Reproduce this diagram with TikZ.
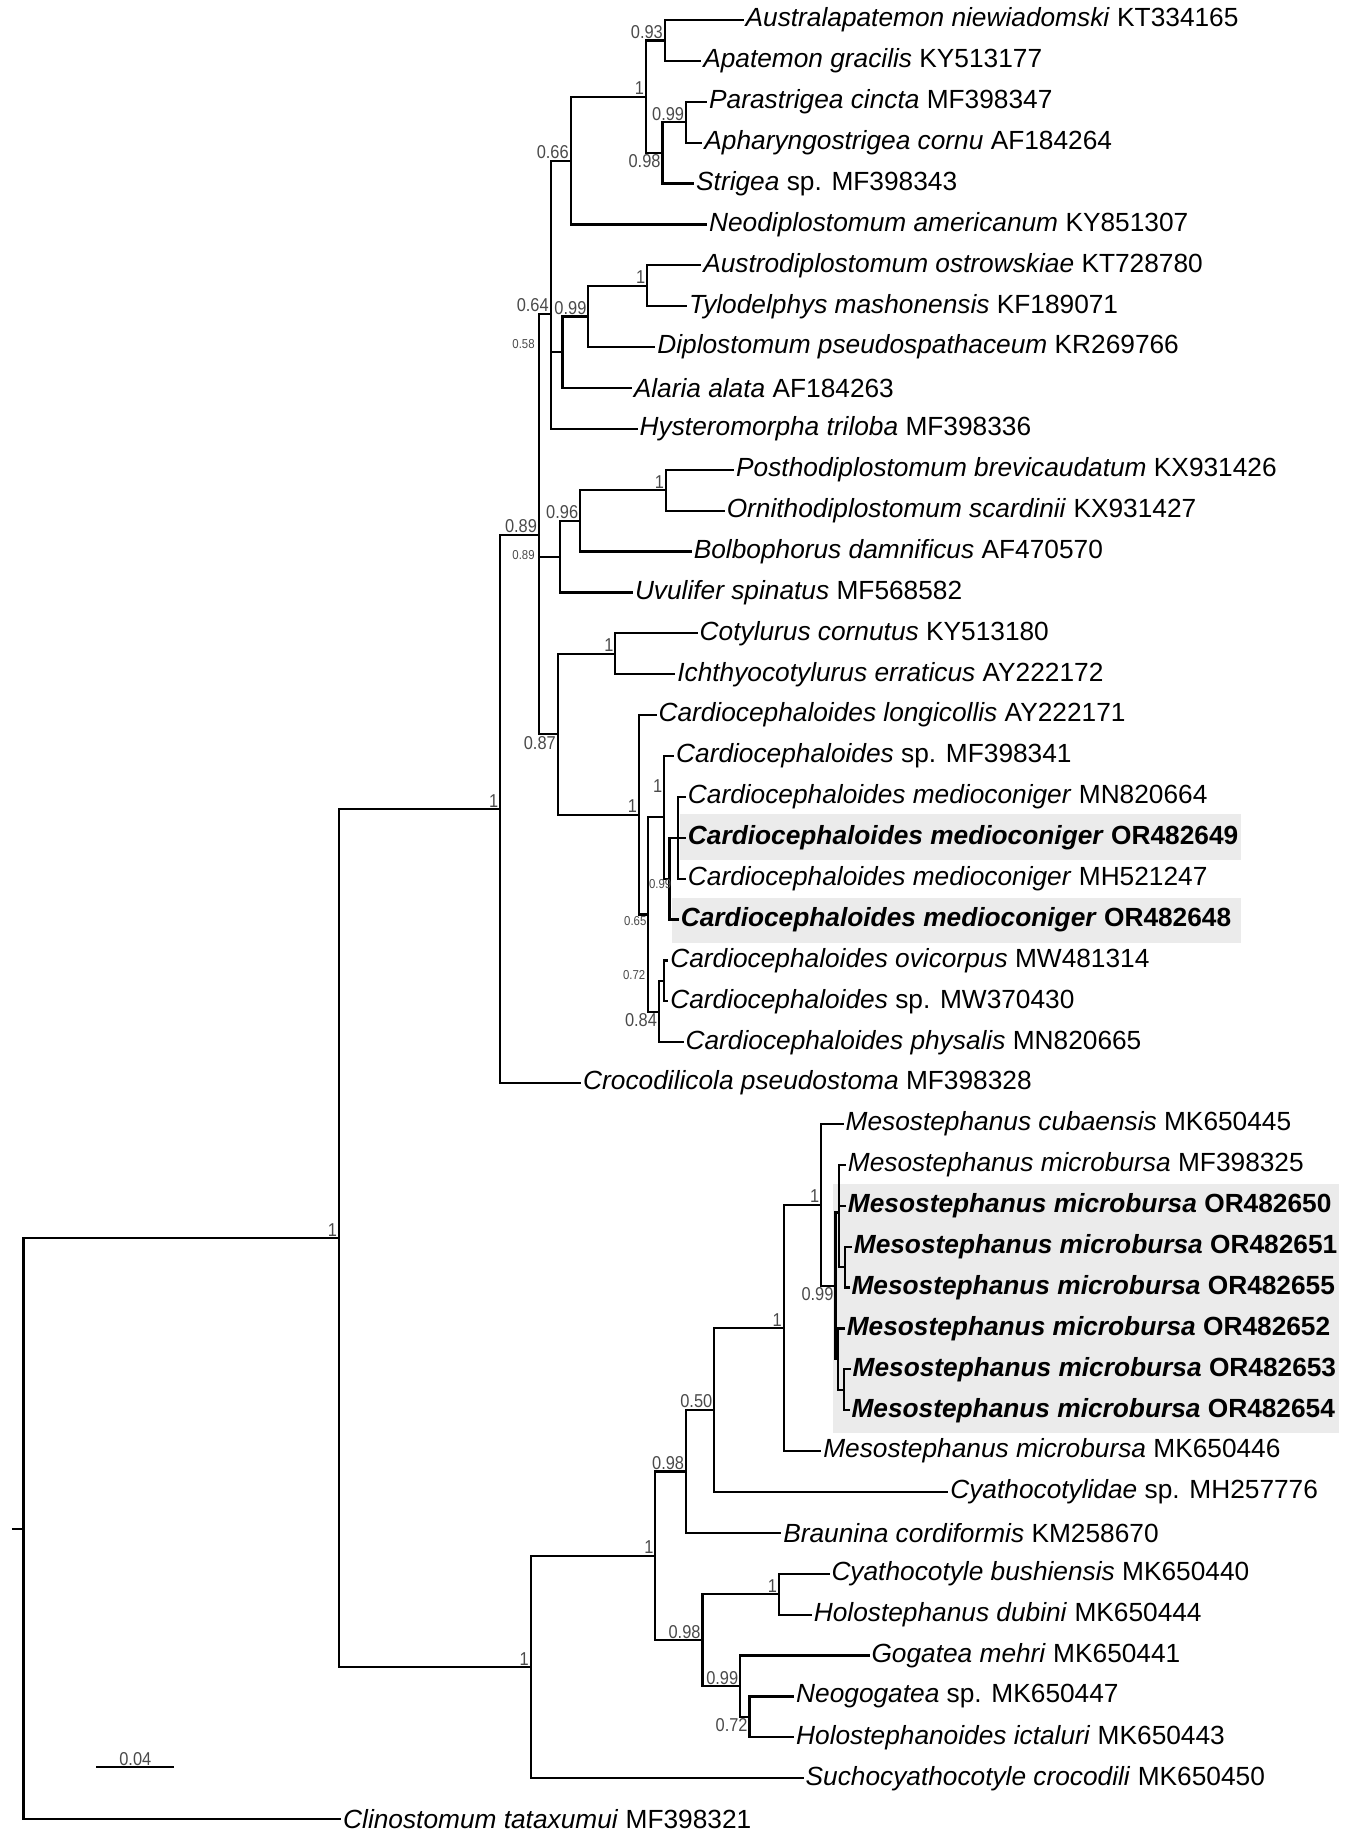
\documentclass[tikz,border=0pt]{standalone}
\usepackage{fontspec}
\setmainfont{Liberation Sans}
\newfontfamily\supfont[FakeStretch=0.88]{Liberation Sans}
\usetikzlibrary{backgrounds}
\definecolor{supgray}{HTML}{4A4A4A}
\definecolor{boxgray}{HTML}{EBEBEB}
\tikzset{
  branch/.style = {line width=1.1pt},
  taxon/.style = {anchor=west, inner sep=0.8pt, font=\fontsize{13.4}{16}\selectfont},
  newseq/.style = {taxon, font=\fontsize{13.4}{16}\selectfont\bfseries},
  support/.style = {inner sep=0.8pt, text=supgray, font=\supfont\fontsize{9.5}{11}\selectfont},
  smallsup/.style = {support, font=\supfont\fontsize{6.6}{8}\selectfont},
  shade/.style = {fill=boxgray, draw=none}
}

\begin{document}
\begin{tikzpicture}[x=0.6pt, y=-0.6pt]
\useasboundingbox (0,0) rectangle (1146,1568);

% Internal nodes
\coordinate (stem) at (10,1299.1);
\coordinate (root) at (20,1299.1);
\coordinate (A) at (288,1052.2);
\coordinate (B) at (425,687.6);
\coordinate (C) at (458,454.6);
\coordinate (D) at (468,266.8);
\coordinate (N5) at (485,136.5);
\coordinate (N4) at (549,82.2);
\coordinate (N1) at (565,34.4);
\coordinate (N3) at (563,130);
\coordinate (N2) at (583,103.9);
\coordinate (N8) at (478,299.4);
\coordinate (N7) at (500,269);
\coordinate (N6) at (550,242.9);
\coordinate (P) at (476,473.1);
\coordinate (Q) at (493,442.7);
\coordinate (R) at (566,416.6);
\coordinate (E) at (474,624);
\coordinate (M) at (523,555.6);
\coordinate (F) at (543,692.5);
\coordinate (G) at (551,777.2);
\coordinate (H) at (564,694.6);
\coordinate (I) at (569,746.75);
\coordinate (J) at (576,712);
\coordinate (K) at (560,859.7);
\coordinate (L) at (564,833.6);
\coordinate (S) at (451,1416.7);
\coordinate (T) at (557,1322.2);
\coordinate (U) at (583,1250.5);
\coordinate (W) at (607,1198.3);
\coordinate (X) at (666,1128.6);
\coordinate (Y) at (698,1024);
\coordinate (Z) at (710,1092.8);
\coordinate (Z1) at (713,1030.5);
\coordinate (Z1a) at (718,1076.9);
\coordinate (Z2) at (712,1155);
\coordinate (Z2a) at (717,1181.1);
\coordinate (V) at (597,1394);
\coordinate (V1) at (662,1354.9);
\coordinate (V2) at (629,1433);
\coordinate (V3) at (637,1459.1);

% Taxa
\node[taxon] (aust) at (632,17) {\textit{Australapatemon niewiadomski} KT334165};
\node[taxon] (apat) at (596,51.75) {\textit{Apatemon gracilis} KY513177};
\node[taxon] (para) at (601,86.5) {\textit{Parastrigea cincta} MF398347};
\node[taxon] (apha) at (597,121.25) {\textit{Apharyngostrigea cornu} AF184264};
\node[taxon] (stri) at (590,156) {\textit{Strigea} sp. MF398343};
\node[taxon] (neod) at (601,190.75) {\textit{Neodiplostomum americanum} KY851307};
\node[taxon] (austr) at (596,225.5) {\textit{Austrodiplostomum ostrowskiae} KT728780};
\node[taxon] (tylo) at (584,260.25) {\textit{Tylodelphys mashonensis} KF189071};
\node[taxon] (dipl) at (557,295) {\textit{Diplostomum pseudospathaceum} KR269766};
\node[taxon] (alar) at (537,329.75) {\textit{Alaria alata} AF184263};
\node[taxon] (hyst) at (542,364.5) {\textit{Hysteromorpha triloba} MF398336};
\node[taxon] (post) at (624,399.25) {\textit{Posthodiplostomum brevicaudatum} KX931426};
\node[taxon] (orni) at (616,434) {\textit{Ornithodiplostomum scardinii} KX931427};
\node[taxon] (bolb) at (588,468.75) {\textit{Bolbophorus damnificus} AF470570};
\node[taxon] (uvul) at (538,503.5) {\textit{Uvulifer spinatus} MF568582};
\node[taxon] (coty) at (593,538.25) {\textit{Cotylurus cornutus} KY513180};
\node[taxon] (icht) at (574,573) {\textit{Ichthyocotylurus erraticus} AY222172};
\node[taxon] (long) at (558,607.75) {\textit{Cardiocephaloides longicollis} AY222171};
\node[taxon] (csp1) at (573,642.5) {\textit{Cardiocephaloides} sp. MF398341};
\node[taxon] (mn664) at (583,677.25) {\textit{Cardiocephaloides medioconiger} MN820664};
\node[newseq] (or649) at (583,712) {\textit{Cardiocephaloides medioconiger} OR482649};
\node[taxon] (mh247) at (583,746.75) {\textit{Cardiocephaloides medioconiger} MH521247};
\node[newseq] (or648) at (577,781.5) {\textit{Cardiocephaloides medioconiger} OR482648};
\node[taxon] (ovic) at (568,816.25) {\textit{Cardiocephaloides ovicorpus} MW481314};
\node[taxon] (csp2) at (568,851) {\textit{Cardiocephaloides} sp. MW370430};
\node[taxon] (phys) at (581,885.75) {\textit{Cardiocephaloides physalis} MN820665};
\node[taxon] (croc) at (494,920.5) {\textit{Crocodilicola pseudostoma} MF398328};
\node[taxon] (cuba) at (717,955.25) {\textit{Mesostephanus cubaensis} MK650445};
\node[taxon] (mf325) at (719,990) {\textit{Mesostephanus microbursa} MF398325};
\node[newseq] (or650) at (719,1024.75) {\textit{Mesostephanus microbursa} OR482650};
\node[newseq] (or651) at (724,1059.5) {\textit{Mesostephanus microbursa} OR482651};
\node[newseq] (or655) at (722,1094.25) {\textit{Mesostephanus microbursa} OR482655};
\node[newseq] (or652) at (718,1129) {\textit{Mesostephanus microbursa} OR482652};
\node[newseq] (or653) at (723,1163.75) {\textit{Mesostephanus microbursa} OR482653};
\node[newseq] (or654) at (722,1198.5) {\textit{Mesostephanus microbursa} OR482654};
\node[taxon] (mk446) at (698,1233.25) {\textit{Mesostephanus microbursa} MK650446};
\node[taxon] (cyth) at (806,1268) {\textit{Cyathocotylidae} sp. MH257776};
\node[taxon] (brau) at (664,1302.75) {\textit{Braunina cordiformis} KM258670};
\node[taxon] (cybu) at (705,1337.5) {\textit{Cyathocotyle bushiensis} MK650440};
\node[taxon] (hodu) at (690,1372.25) {\textit{Holostephanus dubini} MK650444};
\node[taxon] (goga) at (739,1407) {\textit{Gogatea mehri} MK650441};
\node[taxon] (neog) at (675,1441.75) {\textit{Neogogatea} sp. MK650447};
\node[taxon] (hoic) at (675,1476.5) {\textit{Holostephanoides ictaluri} MK650443};
\node[taxon] (such) at (683,1511.25) {\textit{Suchocyathocotyle crocodili} MK650450};
\node[taxon] (clin) at (290,1546) {\textit{Clinostomum tataxumui} MF398321};

% Highlighted new sequences
\begin{scope}[on background layer]
\fill[shade] (578,692) rectangle (1055,731);
\fill[shade] (571,763) rectangle (1055,801);
\fill[shade] (708,1006) rectangle (1138,1218);
\end{scope}

% Branches
\draw[branch] (stem) -- (root);
\foreach \p/\c in {root/A, root/clin, A/B, A/S, B/C, B/croc,
    C/D, C/P, C/E, D/N5, D/N8, D/hyst, N5/N4, N5/neod, N4/N1, N4/N3,
    N1/aust, N1/apat, N3/N2, N3/stri, N2/para, N2/apha,
    N8/N7, N8/alar, N7/N6, N7/dipl, N6/austr, N6/tylo,
    P/Q, P/uvul, Q/R, Q/bolb, R/post, R/orni,
    E/M, E/F, M/coty, M/icht, F/long, F/G, G/H, G/K,
    H/csp1, H/I, I/J, I/or648, J/mn664, J/or649, J/mh247,
    K/L, K/phys, L/ovic, L/csp2,
    S/T, S/such, T/U, T/V, U/W, U/brau, W/X, W/cyth, X/Y, X/mk446,
    Y/cuba, Y/Z, Z/Z1, Z/Z2, Z1/mf325, Z1/or650, Z1/Z1a, Z1a/or651, Z1a/or655,
    Z2/or652, Z2/Z2a, Z2a/or653, Z2a/or654,
    V/V1, V/V2, V1/cybu, V1/hodu, V2/goga, V2/V3, V3/neog, V3/hoic}
  \draw[branch] (\p) |- (\c);

% Support values
\node[support, anchor=south east] (sN1) at (N1) {0.93};
\node[support, anchor=south east] (sN4) at (N4) {1};
\node[support, anchor=south east] (sN2) at (N2) {0.99};
\node[support, anchor=north east] (sN3) at (N3) {0.98};
\node[support, anchor=south east] (sN5) at (N5) {0.66};
\node[support, anchor=south east] (sN6) at (N6) {1};
\node[support, anchor=south east] (sN7) at (N7) {0.99};
\node[support, anchor=south east] (sD) at (D) {0.64};
\node[smallsup, anchor=south east] (sN8) at (456,298) {0.58};
\node[support, anchor=south east] (sC) at (C) {0.89};
\node[support, anchor=south east] (sQ) at (Q) {0.96};
\node[support, anchor=south east] (sR) at (R) {1};
\node[smallsup, anchor=east] (sP) at (456,472) {0.89};
\node[support, anchor=north east] (sE) at (E) {0.87};
\node[support, anchor=south east] (sM) at (M) {1};
\node[support, anchor=south east] (sF) at (F) {1};
\node[support] (sH) at (559,668) {1};
\node[smallsup] (sI) at (561,751) {0.99};
\node[smallsup, anchor=north east] (sG) at (G) {0.65};
\node[smallsup, anchor=east] (sL) at (550,829) {0.72};
\node[support, anchor=north east] (sK) at (K) {0.84};
\node[support, anchor=south east] (sB) at (B) {1};
\node[support, anchor=south east] (sA) at (A) {1};
\node[support, anchor=south east] (sY) at (Y) {1};
\node[support, anchor=south east] (sX) at (X) {1};
\node[support, anchor=north east] (sZ) at (Z) {0.99};
\node[support, anchor=south east] (sW) at (W) {0.50};
\node[support, anchor=south east] (sU) at (U) {0.98};
\node[support, anchor=south east] (sT) at (T) {1};
\node[support, anchor=south east] (sV) at (V) {0.98};
\node[support, anchor=south east] (sV1) at (V1) {1};
\node[support, anchor=south east] (sV2) at (V2) {0.99};
\node[support, anchor=north east] (sV3) at (V3) {0.72};
\node[support, anchor=south east] (sS) at (S) {1};

% Scale bar
\coordinate (barL) at (82,1502);
\coordinate (barR) at (148,1502);
\draw[branch] (barL) -- (barR);
\node[support, anchor=south] (barlab) at (115,1502) {0.04};

\end{tikzpicture}
\end{document}
